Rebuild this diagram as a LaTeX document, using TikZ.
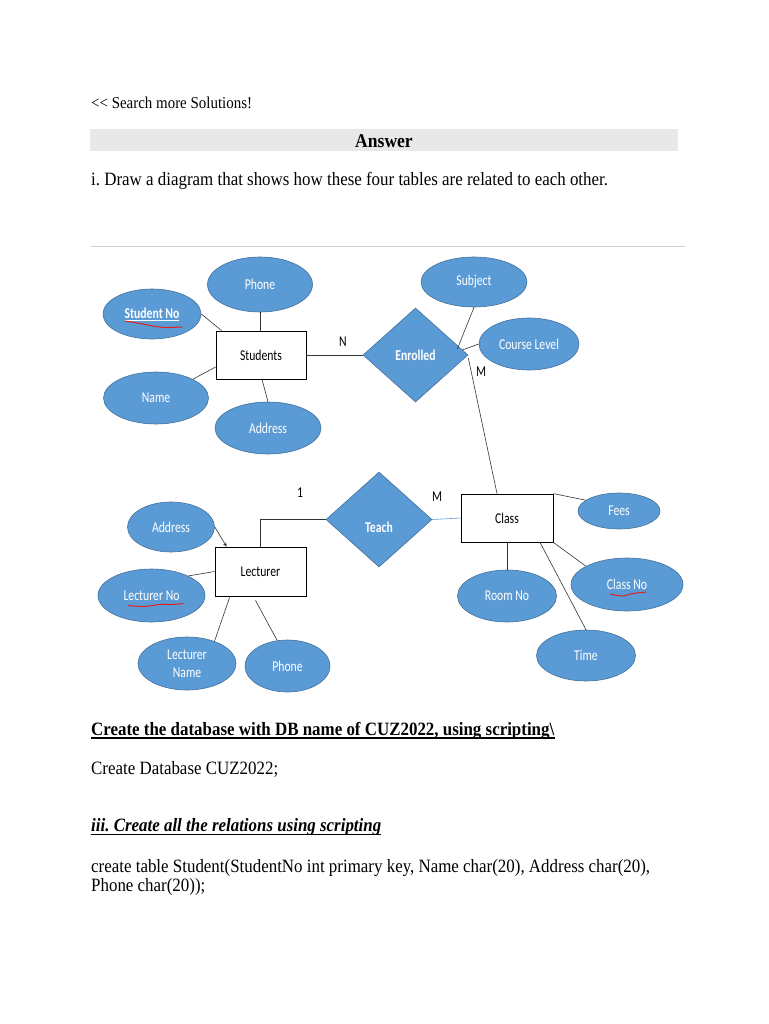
\documentclass[tikz,border=0pt]{standalone}
\usepackage{fontspec}
\setmainfont[FakeStretch=0.9]{Liberation Serif}
\newfontfamily\diag[FakeStretch=0.78]{Carlito}
\usetikzlibrary{shapes.geometric,calc,arrows.meta}
\definecolor{attr}{HTML}{5B9BD5}
\definecolor{attrline}{HTML}{41719C}
\definecolor{barg}{HTML}{E8E8E8}
\definecolor{rulegray}{HTML}{CFCFCF}
\definecolor{redink}{HTML}{E0201B}
\frenchspacing
\begin{document}
\begin{tikzpicture}[x=1pt,y=-1pt,
  dfont/.style={font=\diag\fontsize{15}{18}\selectfont},
  attrib/.style={ellipse, fill=attr, draw=attrline, line width=0.6pt, inner sep=0pt, text=white, dfont},
  entity/.style={rectangle, draw=black, line width=0.8pt, fill=white, inner sep=0pt, dfont},
  rel/.style={diamond, fill=attr, draw=attrline, line width=0.6pt, inner sep=0pt, text=white, font=\diag\bfseries\fontsize{15}{18}\selectfont},
  link/.style={draw=black!80, line width=0.6pt},
  card/.style={dfont, inner sep=0pt},
  body/.style={anchor=base west, inner sep=0pt, font=\fontsize{18.8}{20}\selectfont},
  squiggle/.style={draw=redink, line width=1pt, line cap=round},
]
\useasboundingbox (0,0) rectangle (768,1024);
\fill[white] (0,0) rectangle (768,1024);

% header
\node[body, font=\fontsize{16.6}{20}\selectfont] (search) at (91,109) {<\kern0pt< Search more Solutions!};
\fill[barg] (90,129) rectangle (678,151);
\node[anchor=base, inner sep=0pt, font=\bfseries\fontsize{19.5}{22}\selectfont] (answer) at (384,147.5) {Answer};
\node[body] (q1) at (91,186) {i. Draw a diagram that shows how these four tables are related to each other.};
\draw[rulegray, line width=0.8pt] (91,246) -- (685,246);

% Students part
\node[attrib, minimum width=98, minimum height=50] (sno) at (152,314) {\bfseries\underline{Student No}};
\node[attrib, minimum width=105, minimum height=55] (sph) at (260,284.5) {Phone};
\node[attrib, minimum width=105, minimum height=52] (snm) at (156,398) {Name};
\node[attrib, minimum width=106, minimum height=52] (sad) at (268,428) {Address};
\node[entity, minimum width=90, minimum height=48] (stu) at (261,355) {Students};
\node[rel, minimum width=105, minimum height=94] (enr) at (415.5,355) {Enrolled};
\node[attrib, minimum width=106, minimum height=50] (sub) at (474,282) {Subject};
\node[attrib, minimum width=100, minimum height=52] (clv) at (529,344) {Course Level};

% Class part
\node[entity, minimum width=92, minimum height=48] (cls) at (507,518) {Class};
\node[attrib, minimum width=82, minimum height=36] (fee) at (619,511) {Fees};
\node[attrib, minimum width=112, minimum height=53] (cno) at (627,584.5) {Class No};
\node[attrib, minimum width=99, minimum height=52] (rno) at (507,596) {Room No};
\node[attrib, minimum width=99, minimum height=51] (tim) at (586,655.5) {Time};

% Lecturer part
\node[rel, minimum width=106, minimum height=95, text height=26pt, text depth=0pt] (tch) at (379,519.5) {Teach};
\node[entity, minimum width=91, minimum height=49] (lec) at (260.5,571.5) {Lecturer};
\node[attrib, minimum width=87, minimum height=50] (lad) at (171,527) {Address};
\node[attrib, minimum width=107, minimum height=53] (lno) at (151.5,595.5) {Lecturer No};
\node[attrib, minimum width=98, minimum height=53, align=center, font=\diag\fontsize{15}{18}\selectfont] (lnm) at (187,663.5) {Lecturer\\Name};
\node[attrib, minimum width=85, minimum height=52] (lph) at (287.5,666) {Phone};

% cardinalities
\node[card] (cN) at (343,342) {N};
\node[card] (cM1) at (481,372) {M};
\node[card] (c1) at (300,493) {1};
\node[card] (cM2) at (437,497) {M};

% connectors
\draw[link] (sno.east) -- ($(stu.north west)+(6,0)$);
\draw[link] (sph.south) -- (sph.south |- stu.north);
\draw[link] (snm.27) -- ($(stu.west)+(0,12)$);
\draw[link] ($(stu.south)+(1,0)$) -- (sad.north);
\draw[link] (stu.east) -- (enr.west);
\draw[link] (sub.south) -- ($(enr.east)+(-11,-6)$);
\draw[link] (clv.west) -- ($(enr.east)+(-6,-5)$);
\draw[link] ($(enr.east)+(0,3)$) -- ($(cls.north)+(-10,0)$);
\draw[link] (cls.north east) -- (fee.162);
\draw[link] (cls.south east) -- (cno.156);
\draw[link] (cls.south) -- (rno.north);
\draw[link] ($(cls.south)+(33,0)$) -- (tim.north);
\draw[link, draw=attr] (tch.east) -- (cls.west);
\draw[link] (tch.west) -| (lec.north);
\draw[link, -{Stealth[length=4pt,width=3.5pt]}] (lad.east) -- ($(lec.north west)+(12,0)$);
\draw[link] (lno.28) -- (lec.west);
\draw[link] ($(lec.south west)+(15,1)$) -- (lnm.39);
\draw[link] ($(lec.south)+(-5,4)$) -- (lph.112);

% red squiggles
\draw[squiggle] plot[smooth] coordinates {(125,321) (140,323.5) (153,326) (166,327.5) (182,327)};
\draw[squiggle] plot[smooth] coordinates {(128,605.5) (144,606.5) (160,604.5) (172,604.5) (183,603.5)};
\draw[squiggle] plot[smooth] coordinates {(610,594) (622,596) (633,593.5) (646,592)};

% lower text
\node[body, font=\bfseries\fontsize{18.8}{20}\selectfont] (h1) at (91,735) {Create the database with DB name of CUZ2022, using scripting\textbackslash};
\draw[line width=1.3pt] ($(h1.base west)+(0,3)$) -- ($(h1.base east)+(0,3)$);
\node[body] (t1) at (91,774.5) {Create Database CUZ2022;};
\node[body, font=\bfseries\itshape\fontsize{18.8}{20}\selectfont] (h2) at (91,831.5) {iii. Create all the relations using scripting};
\draw[line width=1.3pt] ($(h2.base west)+(0,3)$) -- ($(h2.base east)+(0,3)$);
\node[body] (t2) at (91,872) {create table Student(StudentNo int primary key, Name char(20), Address char(20),};
\node[body] (t3) at (91,891.5) {Phone char(20));};
\end{tikzpicture}
\end{document}
